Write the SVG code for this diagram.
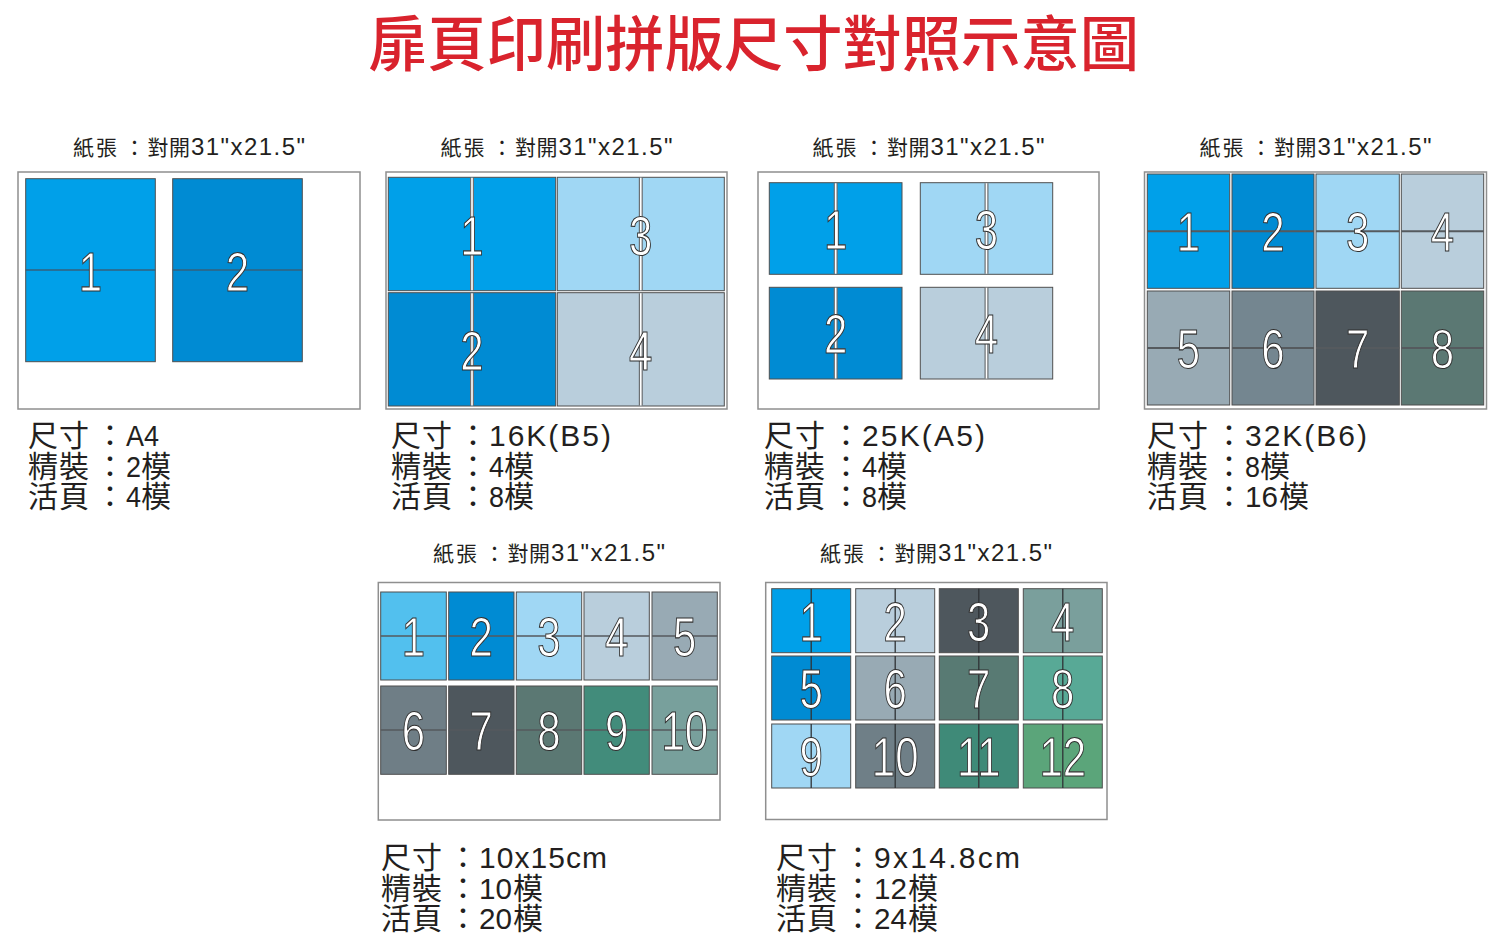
<svg xmlns="http://www.w3.org/2000/svg" width="1500" height="944" viewBox="0 0 1500 944">
<style>
.bg{fill:#fff}
.panel{fill:#fff;stroke:#8f8f8f;stroke-width:1.5}
.cell{stroke:#4f4f4f;stroke-width:1}
.b1{fill:#00a0e9}.b2{fill:#008bd3}.lb{fill:#a0d7f4}.gb{fill:#b9cedc}
.g5{fill:#98aab4}.g6{fill:#748690}.d7{fill:#4e575d}.t8{fill:#5b7873}
.dvh{stroke:#34617b;stroke-width:1.5}
.dvd{stroke:#555a5e;stroke-width:2}
.dvw1{stroke:#6b6f72;stroke-width:4}
.dvw2{stroke:#fff;stroke-width:1.6}
.num{font-family:"Liberation Sans",Arial,sans-serif;font-size:56px;fill:#fff;stroke:#2e2e2e;stroke-width:1.1;text-anchor:middle}
.title{font-family:"Noto Sans CJK TC","Noto Sans CJK SC",sans-serif;font-size:60px;font-weight:500;fill:#d9232d}
.cap{font-family:"Noto Sans CJK TC","Noto Sans CJK SC",sans-serif;font-size:21px;fill:#231f20}
.capl{font-family:"Liberation Sans",Arial,sans-serif;font-size:24px}
.lab{font-family:"Noto Sans CJK TC","Noto Sans CJK SC",sans-serif;font-size:30px;fill:#231f20}
.val{font-family:"Liberation Sans",Arial,sans-serif;font-size:30px}
</style>
<rect class="bg" x="0" y="0" width="1500" height="944"/>
<text id="title" class="title" x="368" y="66" textLength="771" lengthAdjust="spacingAndGlyphs">扉頁印刷拼版尺寸對照示意圖</text>

<!-- Panel A4 -->
<g id="panel-a4">
<text class="cap" y="154.5"><tspan x="73" letter-spacing="2">紙張</tspan><tspan x="124">：</tspan><tspan x="147.5" letter-spacing="0.5">對開</tspan><tspan class="capl" x="191" textLength="114" lengthAdjust="spacing">31"x21.5"</tspan></text>
<rect class="panel" x="18" y="172" width="342" height="237"/>
<rect class="cell b1" x="25.7" y="178.7" width="129.6" height="183"/>
<rect class="cell b2" x="172.7" y="178.7" width="129.6" height="183"/>
<line class="dvh" x1="25.7" y1="270" x2="155.3" y2="270"/>
<line class="dvh" x1="172.7" y1="270" x2="302.3" y2="270"/>
<text class="num" transform="translate(90.5,290.5) scale(0.75,1)">1</text>
<text class="num" transform="translate(237.5,290.5) scale(0.75,1)">2</text>
<text class="lab" y="446"><tspan x="28" letter-spacing="1">尺寸</tspan><tspan x="95">：</tspan><tspan class="val" x="126" textLength="33" lengthAdjust="spacingAndGlyphs">A4</tspan></text>
<text class="lab" y="476.5"><tspan x="28" letter-spacing="1">精裝</tspan><tspan x="95">：</tspan><tspan class="val" x="126" textLength="15" lengthAdjust="spacingAndGlyphs">2</tspan><tspan x="141">模</tspan></text>
<text class="lab" y="507"><tspan x="28" letter-spacing="1">活頁</tspan><tspan x="95">：</tspan><tspan class="val" x="126" textLength="15" lengthAdjust="spacingAndGlyphs">4</tspan><tspan x="141">模</tspan></text>
</g>

<!-- Panel 16K -->
<g id="panel-16k">
<text class="cap" y="154.5"><tspan x="440.5" letter-spacing="2">紙張</tspan><tspan x="491.5">：</tspan><tspan x="515" letter-spacing="0.5">對開</tspan><tspan class="capl" x="558.5" textLength="114" lengthAdjust="spacing">31"x21.5"</tspan></text>
<rect class="panel" x="386" y="172" width="341" height="237"/>
<rect class="cell b1" x="388.3" y="177.3" width="167.4" height="113.4"/>
<rect class="cell lb" x="557.3" y="177.3" width="167" height="113.4"/>
<rect class="cell b2" x="388.3" y="292.7" width="167.4" height="113.3"/>
<rect class="cell gb" x="557.3" y="292.7" width="167" height="113.3"/>
<path class="dvw1" d="M472,177.8V290.2M472,293.2V405.5M640.8,177.8V290.2M640.8,293.2V405.5"/>
<path class="dvw2" d="M472,177.8V290.2M472,293.2V405.5M640.8,177.8V290.2M640.8,293.2V405.5"/>
<text class="num" transform="translate(472,254.5) scale(0.75,1)">1</text>
<text class="num" transform="translate(640.8,254.5) scale(0.75,1)">3</text>
<text class="num" transform="translate(472,369.5) scale(0.75,1)">2</text>
<text class="num" transform="translate(640.8,369.5) scale(0.75,1)">4</text>
<text class="lab" y="446"><tspan x="391" letter-spacing="1">尺寸</tspan><tspan x="458">：</tspan><tspan class="val" x="489" textLength="122" lengthAdjust="spacing">16K(B5)</tspan></text>
<text class="lab" y="476.5"><tspan x="391" letter-spacing="1">精裝</tspan><tspan x="458">：</tspan><tspan class="val" x="489" textLength="15" lengthAdjust="spacingAndGlyphs">4</tspan><tspan x="504">模</tspan></text>
<text class="lab" y="507"><tspan x="391" letter-spacing="1">活頁</tspan><tspan x="458">：</tspan><tspan class="val" x="489" textLength="15" lengthAdjust="spacingAndGlyphs">8</tspan><tspan x="504">模</tspan></text>
</g>

<!-- Panel 25K -->
<g id="panel-25k">
<text class="cap" y="154.5"><tspan x="812.5" letter-spacing="2">紙張</tspan><tspan x="863.5">：</tspan><tspan x="887" letter-spacing="0.5">對開</tspan><tspan class="capl" x="930.5" textLength="114" lengthAdjust="spacing">31"x21.5"</tspan></text>
<rect class="panel" x="758" y="172" width="341" height="237"/>
<rect class="cell b1" x="769.3" y="182.7" width="132.7" height="91.6"/>
<rect class="cell lb" x="920.3" y="182.7" width="132.4" height="91.6"/>
<rect class="cell b2" x="769.3" y="287.3" width="132.7" height="91.7"/>
<rect class="cell gb" x="920.3" y="287.3" width="132.4" height="91.7"/>
<path class="dvw1" d="M835.7,183.2V273.8M835.7,287.8V378.5M986.5,183.2V273.8M986.5,287.8V378.5"/>
<path class="dvw2" d="M835.7,183.2V273.8M835.7,287.8V378.5M986.5,183.2V273.8M986.5,287.8V378.5"/>
<text class="num" transform="translate(835.7,248.5) scale(0.75,1)">1</text>
<text class="num" transform="translate(986.5,248.5) scale(0.75,1)">3</text>
<text class="num" transform="translate(835.7,353) scale(0.75,1)">2</text>
<text class="num" transform="translate(986.5,353) scale(0.75,1)">4</text>
<text class="lab" y="446"><tspan x="764" letter-spacing="1">尺寸</tspan><tspan x="831">：</tspan><tspan class="val" x="862" textLength="123" lengthAdjust="spacing">25K(A5)</tspan></text>
<text class="lab" y="476.5"><tspan x="764" letter-spacing="1">精裝</tspan><tspan x="831">：</tspan><tspan class="val" x="862" textLength="15" lengthAdjust="spacingAndGlyphs">4</tspan><tspan x="877">模</tspan></text>
<text class="lab" y="507"><tspan x="764" letter-spacing="1">活頁</tspan><tspan x="831">：</tspan><tspan class="val" x="862" textLength="15" lengthAdjust="spacingAndGlyphs">8</tspan><tspan x="877">模</tspan></text>
</g>

<!-- Panel 32K -->
<g id="panel-32k">
<text class="cap" y="154.5"><tspan x="1199.5" letter-spacing="2">紙張</tspan><tspan x="1250.5">：</tspan><tspan x="1274" letter-spacing="0.5">對開</tspan><tspan class="capl" x="1317.5" textLength="114" lengthAdjust="spacing">31"x21.5"</tspan></text>
<rect class="panel" x="1144.5" y="172" width="342" height="237"/>
<rect class="cell b1" x="1147.3" y="174" width="82.4" height="114.3"/>
<rect class="cell b2" x="1232" y="174" width="82" height="114.3"/>
<rect class="cell lb" x="1316" y="174" width="83.3" height="114.3"/>
<rect class="cell gb" x="1401.3" y="174" width="82.4" height="114.3"/>
<rect class="cell g5" x="1147.3" y="291" width="82.4" height="114"/>
<rect class="cell g6" x="1232" y="291" width="82" height="114"/>
<rect class="cell d7" x="1316" y="291" width="83.3" height="114"/>
<rect class="cell t8" x="1401.3" y="291" width="82.4" height="114"/>
<path class="dvd" d="M1147.3,231.2H1229.7M1232,231.2H1314M1316,231.2H1399.3M1401.3,231.2H1483.7M1147.3,348H1229.7M1232,348H1314M1316,348H1399.3M1401.3,348H1483.7"/>
<text class="num" transform="translate(1188.5,251) scale(0.75,1)">1</text>
<text class="num" transform="translate(1273,251) scale(0.75,1)">2</text>
<text class="num" transform="translate(1357.7,251) scale(0.75,1)">3</text>
<text class="num" transform="translate(1442.5,251) scale(0.75,1)">4</text>
<text class="num" transform="translate(1188.5,368) scale(0.75,1)">5</text>
<text class="num" transform="translate(1273,368) scale(0.75,1)">6</text>
<text class="num" transform="translate(1357.7,368) scale(0.75,1)">7</text>
<text class="num" transform="translate(1442.5,368) scale(0.75,1)">8</text>
<text class="lab" y="446"><tspan x="1147" letter-spacing="1">尺寸</tspan><tspan x="1214">：</tspan><tspan class="val" x="1245" textLength="122" lengthAdjust="spacing">32K(B6)</tspan></text>
<text class="lab" y="476.5"><tspan x="1147" letter-spacing="1">精裝</tspan><tspan x="1214">：</tspan><tspan class="val" x="1245" textLength="15" lengthAdjust="spacingAndGlyphs">8</tspan><tspan x="1260">模</tspan></text>
<text class="lab" y="507"><tspan x="1147" letter-spacing="1">活頁</tspan><tspan x="1214">：</tspan><tspan class="val" x="1245" textLength="33" lengthAdjust="spacingAndGlyphs">16</tspan><tspan x="1279">模</tspan></text>
</g>

<!-- Panel 10x15cm -->
<g id="panel-10x15">
<text class="cap" y="561"><tspan x="433" letter-spacing="2">紙張</tspan><tspan x="484">：</tspan><tspan x="507.5" letter-spacing="0.5">對開</tspan><tspan class="capl" x="551" textLength="114" lengthAdjust="spacing">31"x21.5"</tspan></text>
<rect class="panel" x="378.3" y="582.5" width="341.7" height="237.5"/>
<rect class="cell" style="fill:#52c0ee" x="380.7" y="592" width="65.6" height="88"/>
<rect class="cell b2" x="448.7" y="592" width="65.3" height="88"/>
<rect class="cell lb" x="516.3" y="592" width="65.4" height="88"/>
<rect class="cell gb" x="584" y="592" width="65.3" height="88"/>
<rect class="cell g5" x="652" y="592" width="65.3" height="88"/>
<rect class="cell" style="fill:#6f7e86" x="380.7" y="686" width="65.6" height="88.3"/>
<rect class="cell d7" x="448.7" y="686" width="65.3" height="88.3"/>
<rect class="cell t8" x="516.3" y="686" width="65.4" height="88.3"/>
<rect class="cell" style="fill:#428c7b" x="584" y="686" width="65.3" height="88.3"/>
<rect class="cell" style="fill:#78a09c" x="652" y="686" width="65.3" height="88.3"/>
<path class="dvd" style="stroke-width:1.6" d="M380.7,636H446.3M448.7,636H514M516.3,636H581.7M584,636H649.3M652,636H717.3M380.7,730H446.3M448.7,730H514M516.3,730H581.7M584,730H649.3M652,730H717.3"/>
<text class="num" transform="translate(413.5,656) scale(0.75,1)">1</text>
<text class="num" transform="translate(481.3,656) scale(0.75,1)">2</text>
<text class="num" transform="translate(549,656) scale(0.75,1)">3</text>
<text class="num" transform="translate(616.7,656) scale(0.75,1)">4</text>
<text class="num" transform="translate(684.7,656) scale(0.75,1)">5</text>
<text class="num" transform="translate(413.5,750) scale(0.75,1)">6</text>
<text class="num" transform="translate(481.3,750) scale(0.75,1)">7</text>
<text class="num" transform="translate(549,750) scale(0.75,1)">8</text>
<text class="num" transform="translate(616.7,750) scale(0.75,1)">9</text>
<text class="num" transform="translate(684.7,750) scale(0.75,1)">10</text>
<text class="lab" y="868"><tspan x="381" letter-spacing="1">尺寸</tspan><tspan x="448">：</tspan><tspan class="val" x="479" textLength="128" lengthAdjust="spacing">10x15cm</tspan></text>
<text class="lab" y="898.5"><tspan x="381" letter-spacing="1">精裝</tspan><tspan x="448">：</tspan><tspan class="val" x="479" textLength="33" lengthAdjust="spacingAndGlyphs">10</tspan><tspan x="513">模</tspan></text>
<text class="lab" y="929"><tspan x="381" letter-spacing="1">活頁</tspan><tspan x="448">：</tspan><tspan class="val" x="479" textLength="33" lengthAdjust="spacingAndGlyphs">20</tspan><tspan x="513">模</tspan></text>
</g>

<!-- Panel 9x14.8cm -->
<g id="panel-9x14">
<text class="cap" y="561"><tspan x="820" letter-spacing="2">紙張</tspan><tspan x="871">：</tspan><tspan x="894.5" letter-spacing="0.5">對開</tspan><tspan class="capl" x="938" textLength="114" lengthAdjust="spacing">31"x21.5"</tspan></text>
<rect class="panel" x="765.7" y="582.5" width="341.3" height="237"/>
<rect class="cell b1" x="771.7" y="588.7" width="79" height="64"/>
<rect class="cell gb" x="855.7" y="588.7" width="79" height="64"/>
<rect class="cell d7" x="939.3" y="588.7" width="79" height="64"/>
<rect class="cell" style="fill:#7a9f9c" x="1023.3" y="588.7" width="79" height="64"/>
<rect class="cell b2" x="771.7" y="656" width="79" height="64"/>
<rect class="cell g5" x="855.7" y="656" width="79" height="64"/>
<rect class="cell" style="fill:#587a73" x="939.3" y="656" width="79" height="64"/>
<rect class="cell" style="fill:#58a996" x="1023.3" y="656" width="79" height="64"/>
<rect class="cell lb" x="771.7" y="724" width="79" height="64"/>
<rect class="cell" style="fill:#6f7f87" x="855.7" y="724" width="79" height="64"/>
<rect class="cell" style="fill:#3f8a78" x="939.3" y="724" width="79" height="64"/>
<rect class="cell" style="fill:#5ba57a" x="1023.3" y="724" width="79" height="64"/>
<path class="dvd" style="stroke:#2f3336;stroke-width:1.3" d="M811.2,588.7V652.7M811.2,656V720M811.2,724V788M895.2,588.7V652.7M895.2,656V720M895.2,724V788M978.8,588.7V652.7M978.8,656V720M978.8,724V788M1062.8,588.7V652.7M1062.8,656V720M1062.8,724V788"/>
<text class="num" transform="translate(811.2,640.7) scale(0.75,1)">1</text>
<text class="num" transform="translate(895.2,640.7) scale(0.75,1)">2</text>
<text class="num" transform="translate(978.8,640.7) scale(0.75,1)">3</text>
<text class="num" transform="translate(1062.8,640.7) scale(0.75,1)">4</text>
<text class="num" transform="translate(811.2,708) scale(0.75,1)">5</text>
<text class="num" transform="translate(895.2,708) scale(0.75,1)">6</text>
<text class="num" transform="translate(978.8,708) scale(0.75,1)">7</text>
<text class="num" transform="translate(1062.8,708) scale(0.75,1)">8</text>
<text class="num" transform="translate(811.2,776) scale(0.75,1)">9</text>
<text class="num" transform="translate(895.2,776) scale(0.75,1)">10</text>
<text class="num" transform="translate(978.8,776) scale(0.75,1)">11</text>
<text class="num" transform="translate(1062.8,776) scale(0.75,1)">12</text>
<text class="lab" y="868"><tspan x="776" letter-spacing="1">尺寸</tspan><tspan x="843">：</tspan><tspan class="val" x="874" textLength="146" lengthAdjust="spacing">9x14.8cm</tspan></text>
<text class="lab" y="898.5"><tspan x="776" letter-spacing="1">精裝</tspan><tspan x="843">：</tspan><tspan class="val" x="874" textLength="33" lengthAdjust="spacingAndGlyphs">12</tspan><tspan x="908">模</tspan></text>
<text class="lab" y="929"><tspan x="776" letter-spacing="1">活頁</tspan><tspan x="843">：</tspan><tspan class="val" x="874" textLength="33" lengthAdjust="spacingAndGlyphs">24</tspan><tspan x="908">模</tspan></text>
</g>
</svg>
